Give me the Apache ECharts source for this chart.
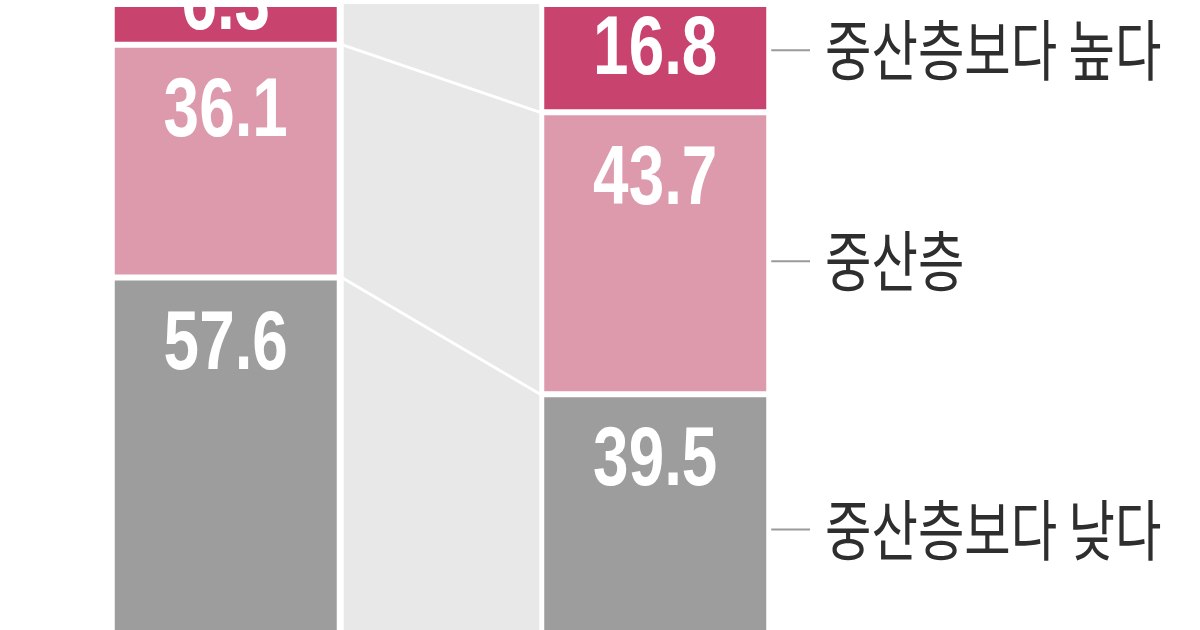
<!DOCTYPE html>
<html>
<head>
<meta charset="utf-8">
<script src="https://cdn.jsdelivr.net/npm/echarts@6/dist/echarts.min.js"></script>
<style>
html,body{margin:0;padding:0;background:#fff}
#chart{width:1200px;height:630px}
</style>
</head>
<body>
<div id="chart"></div>
<script>
// two stacked bars, values in percent (bottom -> top)
var categories = ['A', 'B']
var groupNames = ['중산층보다 낮다', '중산층', '중산층보다 높다']
var lowerVals = [57.6, 39.5]
var middleVals = [36.1, 43.7]
var upperVals = [6.3, 16.8]

var colors = ['#9d9d9d', '#dd9aac', '#c9436f']
var bandColor = '#e8e8e8'
var barW = 228

var chart = echarts.init(document.getElementById('chart'), null, {renderer: 'canvas'})

var layers = [lowerVals, middleVals, upperVals]
var series = layers.map(function(vals, k){
    return {
        name: groupNames[k],
        type: 'bar',
        stack: 'total',
        barWidth: barW,
        data: vals,
        itemStyle: {color: colors[k], borderColor: '#fff', borderWidth: 3},
        label: {show: false},
        emphasis: {disabled: true}
    }
})

chart.setOption({
    animation: false,
    grid: {left: 11, width: 859, top: 4, height: 645, outerBoundsMode: 'none'},
    xAxis: {type: 'category', data: categories, show: false},
    yAxis: {type: 'value', min: 0, max: 100, show: false},
    series: series
})

// band, connector lines, value numbers and side labels use the chart's own scale
var px = function(i, v){ return chart.convertToPixel({gridIndex: 0}, [i, v]) }
var half = barW / 2
var x0 = px(0, 0)[0], x1 = px(1, 0)[0]
var yTop = px(0, 100)[1]

var g = []
g.push({
    type: 'rect', z: -10,
    shape: {x: x0 + half + 4, y: yTop, width: (x1 - half - 2) - (x0 + half + 4), height: 640},
    style: {fill: bandColor}
})

var cumL = 0, cumR = 0
for(var k = 0; k < 2; k++){
    cumL += layers[k][0]
    cumR += layers[k][1]
    g.push({
        type: 'line', z: 10,
        shape: {x1: x0 + half + 2, y1: px(0, cumL)[1], x2: x1 - half - 1, y2: px(1, cumR)[1]},
        style: {stroke: '#fff', lineWidth: 3}
    })
}

// numbers inside the bars (condensed look via scaleX)
var topShift = [-18, -7]
for(var i = 0; i < categories.length; i++){
    var base = 0
    for(var k = 0; k < 3; k++){
        var v = layers[k][i]
        var yS = px(i, base + v)[1]
        var yE = px(i, base)[1]
        var yc = k < 2 ? yS + 68 : (yS + yE) / 2 + topShift[i]
        base += v
        g.push({
            type: 'text', z: 20, x: px(i, 0)[0], y: yc, scaleX: 0.76,
            style: {
                text: v.toFixed(1),
                fill: '#fff',
                fontSize: 84,
                fontWeight: 'bold',
                fontFamily: '"Liberation Sans", Arial, sans-serif',
                align: 'center',
                verticalAlign: 'middle'
            }
        })
    }
}

var labelShift = [8, 8, -8]
var start = 0
for(var k = 0; k < 3; k++){
    var end = start + layers[k][1]
    var yc = (px(1, start)[1] + px(1, end)[1]) / 2 + labelShift[k]
    start = end
    g.push({
        type: 'line', z: 10,
        shape: {x1: x1 + half + 2, y1: yc, x2: 810, y2: yc},
        style: {stroke: '#9a9a9a', lineWidth: 2}
    })
    g.push({
        type: 'text', z: 10, x: 825, y: yc, scaleX: 0.765,
        style: {
            text: groupNames[k],
            fill: '#2e2e2e',
            fontSize: 66,
            fontFamily: '"Noto Sans CJK KR", sans-serif',
            align: 'left',
            verticalAlign: 'middle'
        }
    })
}

chart.setOption({graphic: {elements: g}})
</script>
</body>
</html>
